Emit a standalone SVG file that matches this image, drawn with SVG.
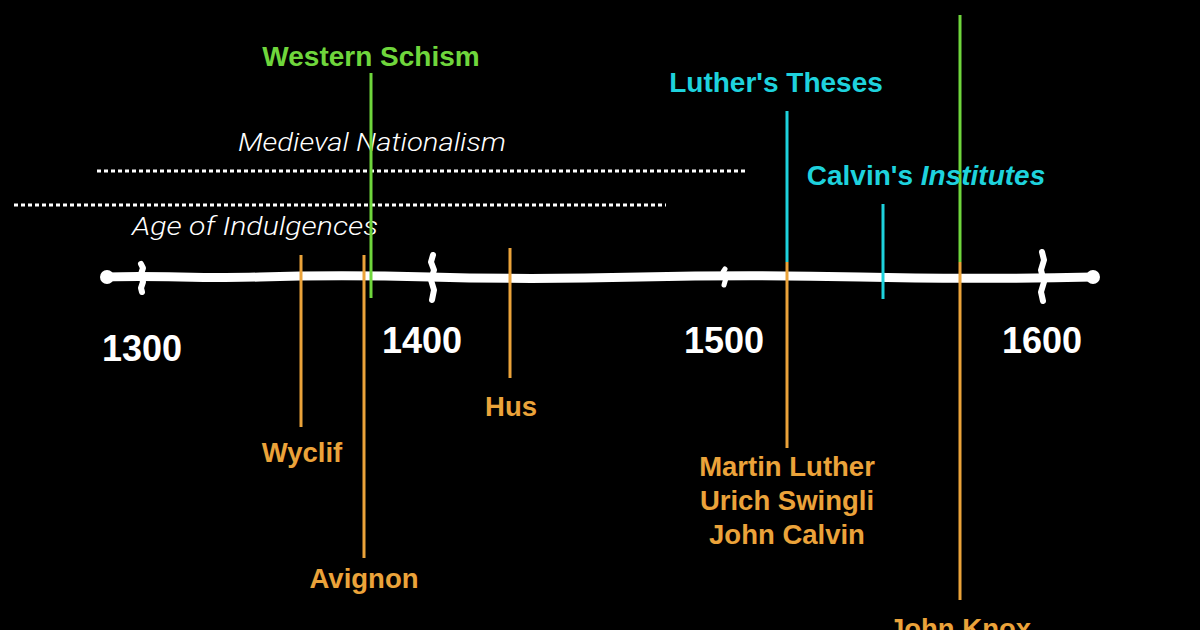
<svg xmlns="http://www.w3.org/2000/svg" width="1200" height="630" viewBox="0 0 1200 630">
<style>
.b{font-family:"Liberation Sans",Arial,sans-serif;font-weight:bold;text-anchor:middle}
.yr{fill:#fff;font-size:36px}
.g{fill:#6fd63c}
.c{fill:#1ed2dd}
.o{fill:#eba33a}
.it{font-family:"Roboto","Liberation Sans",sans-serif;font-weight:300;font-style:italic;font-size:26px;fill:#fff}
.ln{stroke-width:3;fill:none}
.gl{stroke:#6fd63c}
.cl{stroke:#1ed2dd}
.ol{stroke:#eba33a}
.dash{stroke:#fff;stroke-width:3;stroke-dasharray:4 3;fill:none}
.tick{stroke:#fff;fill:none;stroke-linecap:round;stroke-linejoin:round}
</style>
<rect width="1200" height="630" fill="#000"/>

<g id="periods">
<line class="dash" x1="97" y1="171" x2="748" y2="171"/>
<line class="dash" x1="14" y1="205" x2="666" y2="205"/>
<text class="it" x="372" y="151" text-anchor="middle" textLength="268" lengthAdjust="spacingAndGlyphs">Medieval Nationalism</text>
<text class="it" x="255" y="235" text-anchor="middle" textLength="246" lengthAdjust="spacingAndGlyphs">Age of Indulgences</text>
</g>

<g id="timeline">
<path d="M107 277 C160 275 200 279 260 277 S360 275 430 277 S560 279 640 277 S780 275 860 277 S1000 279 1093 277" stroke="#fff" stroke-width="9" fill="none" stroke-linecap="round"/>
<circle cx="107" cy="277" r="7" fill="#fff"/>
<circle cx="1093" cy="277" r="7" fill="#fff"/>
<path class="tick" stroke-width="6" d="M141 264 L143 268 L141 274 L143 282 L141 288 L142 292"/>
<path class="tick" stroke-width="6" d="M433 255 L431 262 L434 270 L431 280 L434 290 L432 300"/>
<path class="tick" stroke-width="5" d="M725 269 L723 272 L726 278 L724 285"/>
<path class="tick" stroke-width="6" d="M1042 252 L1044 260 L1041 270 L1044 282 L1041 292 L1043 301"/>
<text class="b yr" x="142" y="361">1300</text>
<text class="b yr" x="422" y="353">1400</text>
<text class="b yr" x="724" y="353">1500</text>
<text class="b yr" x="1042" y="353">1600</text>
</g>

<g id="connectors">
<line class="ln gl" x1="371" y1="73" x2="371" y2="298"/>
<line class="ln cl" x1="787" y1="111" x2="787" y2="262"/>
<line class="ln ol" x1="787" y1="262" x2="787" y2="448"/>
<line class="ln cl" x1="883" y1="204" x2="883" y2="299"/>
<line class="ln gl" x1="960" y1="15" x2="960" y2="262"/>
<line class="ln ol" x1="960" y1="262" x2="960" y2="600"/>
<line class="ln ol" x1="301" y1="255" x2="301" y2="427"/>
<line class="ln ol" x1="364" y1="255" x2="364" y2="558"/>
<line class="ln ol" x1="510" y1="248" x2="510" y2="378"/>
</g>

<g id="western-schism"><text class="b g" x="371" y="66" font-size="28">Western Schism</text></g>
<g id="luthers-theses"><text class="b c" x="776" y="92" font-size="28">Luther's Theses</text></g>
<g id="calvins-institutes"><text class="b c" x="926" y="185" font-size="28">Calvin's <tspan font-style="italic">Institutes</tspan></text></g>
<g id="wyclif"><text class="b o" x="302" y="462" font-size="27.5">Wyclif</text></g>
<g id="avignon"><text class="b o" x="364" y="588" font-size="27.5">Avignon</text></g>
<g id="hus"><text class="b o" x="511" y="416" font-size="27.5">Hus</text></g>
<g id="reformers"><text class="b o" x="787" y="476" font-size="27.5"><tspan x="787">Martin Luther</tspan><tspan x="787" dy="34">Urich Swingli</tspan><tspan x="787" dy="34">John Calvin</tspan></text></g>
<g id="john-knox"><text class="b o" x="960" y="638" font-size="27.5">John Knox</text></g>
</svg>
